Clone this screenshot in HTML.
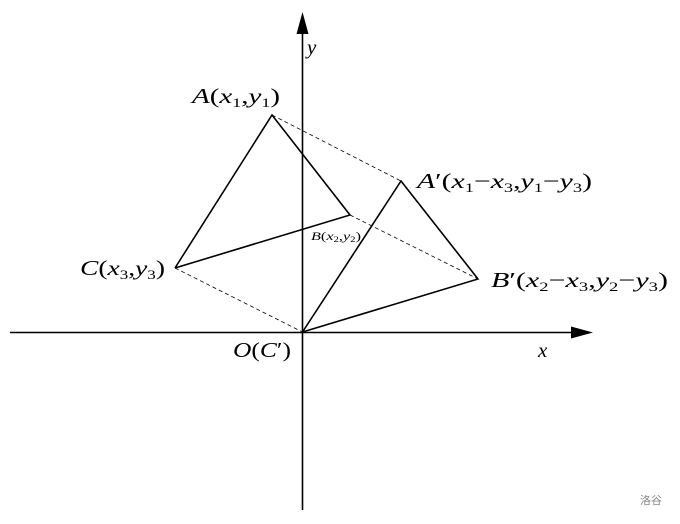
<!DOCTYPE html>
<html><head><meta charset="utf-8"><style>
body{margin:0;background:#fff;width:680px;height:519px;overflow:hidden}
svg text{font-family:"Liberation Serif",serif;font-size:21px}
.i{font-style:italic}
</style></head><body>
<svg width="680" height="519" viewBox="0 0 680 519">
<g stroke="#000" stroke-width="1.6" fill="none">
<line x1="302.5" y1="510" x2="302.5" y2="30"/>
<line x1="10" y1="332.5" x2="575" y2="332.5"/>
<polyline points="175,268 272,115 350,215 175,268"/>
<polyline points="302.5,332 401,181 478,279 302.5,332"/>
</g>
<polygon points="302.5,12 296.5,34 308.5,34" fill="#000"/>
<polygon points="593,332.5 571,326.5 571,338.5" fill="#000"/>
<g stroke="#000" stroke-width="0.8" stroke-dasharray="4,3">
<line x1="272" y1="115" x2="401" y2="181"/>
<line x1="350" y1="215" x2="478" y2="279"/>
<line x1="175" y1="268" x2="302.5" y2="332"/>
</g>
<text x="307" y="54" class="i">y</text>
<text x="538" y="357" class="i">x</text>
<text x="192" y="103" textLength="88" lengthAdjust="spacingAndGlyphs"><tspan class="i">A</tspan>(<tspan class="i">x</tspan><tspan style="font-size:13px" dy="4">1</tspan><tspan dy="-4">,</tspan><tspan class="i">y</tspan><tspan style="font-size:13px" dy="4">1</tspan><tspan dy="-4">)</tspan></text>
<text x="417" y="188" textLength="175" lengthAdjust="spacingAndGlyphs"><tspan class="i">A</tspan>′(<tspan class="i">x</tspan><tspan style="font-size:13px" dy="4">1</tspan><tspan dy="-4">−</tspan><tspan class="i">x</tspan><tspan style="font-size:13px" dy="4">3</tspan><tspan dy="-4">,</tspan><tspan class="i">y</tspan><tspan style="font-size:13px" dy="4">1</tspan><tspan dy="-4">−</tspan><tspan class="i">y</tspan><tspan style="font-size:13px" dy="4">3</tspan><tspan dy="-4">)</tspan></text>
<text x="311" y="240" style="font-size:12px" textLength="50" lengthAdjust="spacingAndGlyphs"><tspan class="i">B</tspan>(<tspan class="i">x</tspan><tspan style="font-size:8px" dy="2">2</tspan><tspan dy="-2">,</tspan><tspan class="i">y</tspan><tspan style="font-size:8px" dy="2">2</tspan><tspan dy="-2">)</tspan></text>
<text x="80" y="275" textLength="85" lengthAdjust="spacingAndGlyphs"><tspan class="i">C</tspan>(<tspan class="i">x</tspan><tspan style="font-size:13px" dy="4">3</tspan><tspan dy="-4">,</tspan><tspan class="i">y</tspan><tspan style="font-size:13px" dy="4">3</tspan><tspan dy="-4">)</tspan></text>
<text x="491" y="287" textLength="177" lengthAdjust="spacingAndGlyphs"><tspan class="i">B</tspan>′(<tspan class="i">x</tspan><tspan style="font-size:13px" dy="4">2</tspan><tspan dy="-4">−</tspan><tspan class="i">x</tspan><tspan style="font-size:13px" dy="4">3</tspan><tspan dy="-4">,</tspan><tspan class="i">y</tspan><tspan style="font-size:13px" dy="4">2</tspan><tspan dy="-4">−</tspan><tspan class="i">y</tspan><tspan style="font-size:13px" dy="4">3</tspan><tspan dy="-4">)</tspan></text>
<text x="233" y="357" textLength="58" lengthAdjust="spacingAndGlyphs"><tspan class="i">O</tspan>(<tspan class="i">C</tspan>′)</text>
<text x="640" y="504" style="font-family:'Noto Sans CJK SC',sans-serif;font-size:11px" fill="#888">洛谷</text>
</svg>
</body></html>
